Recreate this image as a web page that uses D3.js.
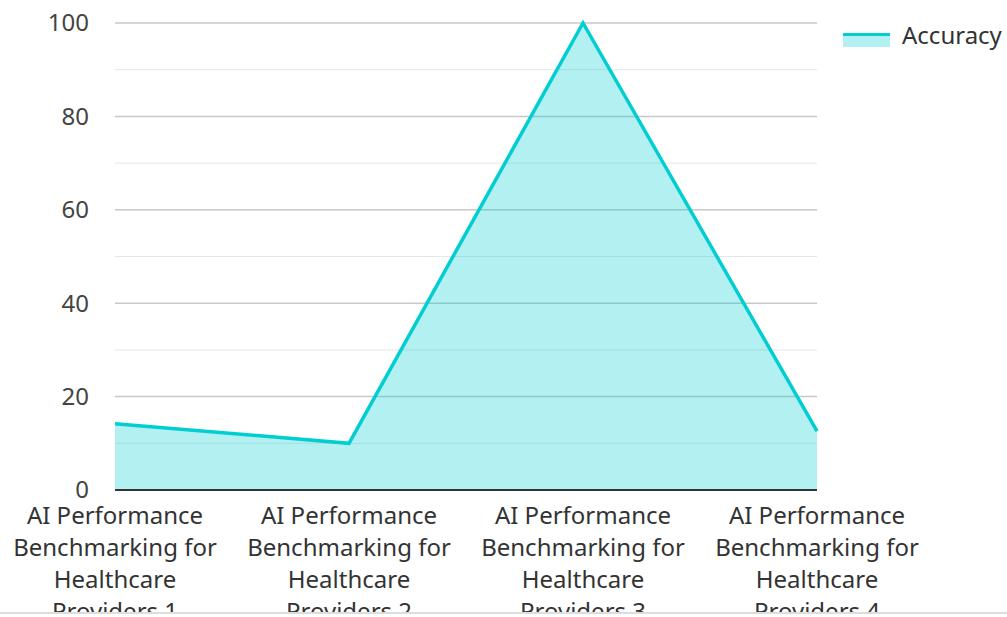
<!DOCTYPE html>
<html><head><meta charset="utf-8">
<script src="https://cdn.jsdelivr.net/npm/d3@7"></script>
<style>
html,body{margin:0;padding:0;background:#fff;overflow:hidden;}
#wrap{width:1007px;height:612px;overflow:hidden;border-bottom:2px solid #ddd;}
text{font-family:"Noto Sans",sans-serif;}
</style></head>
<body><div id="wrap"></div>
<script>
const categories = [
  "AI Performance Benchmarking for Healthcare Providers 1",
  "AI Performance Benchmarking for Healthcare Providers 2",
  "AI Performance Benchmarking for Healthcare Providers 3",
  "AI Performance Benchmarking for Healthcare Providers 4"
];
const labelLines = [
  ["AI Performance","Benchmarking for","Healthcare","Providers 1"],
  ["AI Performance","Benchmarking for","Healthcare","Providers 2"],
  ["AI Performance","Benchmarking for","Healthcare","Providers 3"],
  ["AI Performance","Benchmarking for","Healthcare","Providers 4"]
];
const accuracy = [14.2, 10, 100, 12.6];
const yTicks = [0, 20, 40, 60, 80, 100];
const yMinor = [10, 30, 50, 70, 90];
const seriesName = "Accuracy";

const W = 1007, H = 612;
const svg = d3.select("#wrap").append("svg").attr("width", W).attr("height", H);
const x = d3.scalePoint().domain(categories).range([115, 817]);
const y = d3.scaleLinear().domain([0, 100]).range([490, 23]);

const g = svg.append("g");
g.selectAll(".minor").data(yMinor).join("line")
  .attr("x1", 115).attr("x2", 817).attr("y1", d => y(d)).attr("y2", d => y(d))
  .attr("stroke", "#e6e6e6").attr("stroke-width", 1);
g.selectAll(".major").data(yTicks.filter(d => d > 0)).join("line")
  .attr("x1", 115).attr("x2", 817).attr("y1", d => y(d)).attr("y2", d => y(d))
  .attr("stroke", "#c8c8c8").attr("stroke-width", 1.5);

const area = d3.area().x((d, i) => x(categories[i])).y0(y(0)).y1(d => y(d));
const line = d3.line().x((d, i) => x(categories[i])).y(d => y(d));
g.append("path").datum(accuracy).attr("d", area).attr("fill", "rgba(0,206,209,0.3)");
g.append("path").datum(accuracy).attr("d", line).attr("fill", "none")
  .attr("stroke", "#00CED1").attr("stroke-width", 3.5).attr("stroke-linejoin", "miter");

g.append("line").attr("x1", 115).attr("x2", 817).attr("y1", y(0)).attr("y2", y(0))
  .attr("stroke", "#333").attr("stroke-width", 2);

g.selectAll(".ylab").data(yTicks).join("text")
  .attr("x", 89).attr("y", d => y(d)).attr("dy", "0.35em")
  .attr("text-anchor", "end").attr("font-size", 24).attr("fill", "#444")
  .text(d => d);

const xl = g.selectAll(".xlab").data(categories).join("text")
  .attr("text-anchor", "middle").attr("font-size", 24).attr("fill", "#333");
xl.each(function(d, i) {
  const t = d3.select(this);
  labelLines[i].forEach((s, j) => {
    t.append("tspan").attr("x", x(d)).attr("y", 524 + j * 32).text(s);
  });
});

const lg = svg.append("g");
lg.append("rect").attr("x", 843).attr("y", 33).attr("width", 47).attr("height", 14)
  .attr("fill", "rgba(0,206,209,0.3)");
lg.append("line").attr("x1", 843).attr("x2", 890).attr("y1", 34.5).attr("y2", 34.5)
  .attr("stroke", "#00CED1").attr("stroke-width", 3);
lg.append("text").attr("x", 902).attr("y", 36).attr("dy", "0.35em")
  .attr("font-size", 24).attr("fill", "#333").text(seriesName);
</script></body></html>
